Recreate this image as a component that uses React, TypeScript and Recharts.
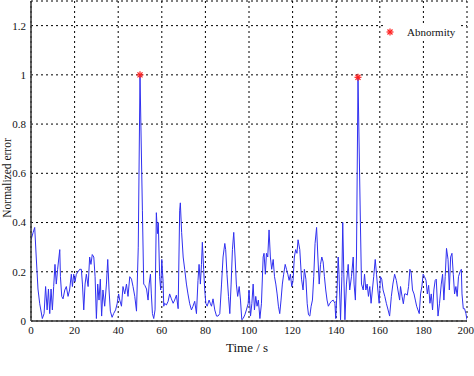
import React from 'react';
import { ComposedChart, Line, Scatter, XAxis, YAxis, CartesianGrid, Label } from 'recharts';

const times = [0,1.0,1.7,2.4,3.2,4.0,5.2,6.0,6.7,7.4,8.0,8.6,9.2,9.8,10.4,11.0,11.6,12.2,13.2,13.5,14.1,14.7,15.5,16.2,17.0,17.7,18.5,19.0,19.6,20.2,20.8,21.6,22.3,23.1,23.6,24.2,24.8,25.4,26.2,26.9,27.5,28.1,28.8,29.4,30.0,30.6,31.2,31.8,32.4,33.0,33.8,34.6,35.2,35.8,36.4,37.2,37.9,38.8,39.5,40.2,40.7,41.5,42.2,43.0,43.8,44.5,45.3,46.1,46.8,47.6,48.4,49.2,50.0,51.1,51.7,52.2,53.0,53.7,54.2,54.8,55.2,55.7,56.3,56.9,57.5,58.0,58.4,59.0,59.5,60.0,60.3,60.6,60.9,61.3,62.1,62.9,63.6,64.4,65.2,65.9,66.7,67.5,68.2,68.5,69.1,69.8,70.5,71.3,72.0,72.8,73.6,74.3,75.1,75.9,76.6,77.1,77.7,78.2,78.6,79.2,79.7,80.2,80.8,81.7,82.3,82.8,83.5,84.3,85.1,85.8,86.6,87.4,88.1,88.9,89.3,89.9,90.6,91.2,91.8,92.4,93.0,93.6,94.2,94.8,95.5,96.1,96.7,97.3,98.1,98.8,99.6,100.0,100.7,101.3,101.9,102.5,103.1,103.7,104.3,105.0,105.7,106.5,106.9,107.5,108.0,108.6,109.2,109.8,110.4,111.1,111.7,112.3,112.9,113.5,114.1,114.7,115.3,115.9,116.6,117.2,117.8,118.4,119.0,119.6,120.2,120.8,121.4,122.0,122.5,123.3,124.1,124.8,125.4,126.1,126.7,127.3,127.9,128.5,129.1,129.7,130.3,131.0,131.6,132.2,132.8,133.4,134.0,134.6,135.2,135.8,136.4,137.1,137.8,138.6,139.4,139.8,140.4,140.9,141.3,142.0,142.6,143.0,143.5,144.0,144.7,145.5,146.2,147.0,147.8,148.2,148.8,149.3,150.0,151.1,151.6,152.4,153.0,153.6,154.2,154.8,155.4,156.0,156.6,157.2,157.9,158.5,159.1,159.7,160.3,160.9,161.5,162.3,163.0,163.8,164.5,165.3,166.0,166.8,167.6,168.3,169.1,169.5,170.2,170.8,171.4,172.0,172.6,173.2,173.8,174.4,175.0,175.7,176.3,176.9,177.5,178.1,178.7,179.3,179.9,180.5,181.2,181.8,182.4,183.0,183.6,184.2,184.8,185.4,185.9,186.7,187.4,188.2,188.8,189.4,190.0,190.6,191.3,191.9,192.5,193.1,193.7,194.3,194.9,195.5,196.1,196.8,197.4,197.7,198.3,198.9,199.5,200.0];

const errors = [0.33,0.36,0.38,0.26,0.13,0.07,0.01,0.03,0.14,0.045,0.13,0.03,0.13,0.045,0.14,0.23,0.15,0.21,0.29,0.18,0.10,0.09,0.126,0.14,0.10,0.126,0.19,0.14,0.19,0.16,0.19,0.20,0.21,0.21,0.15,0.045,0.15,0.19,0.14,0.26,0.23,0.27,0.26,0.18,0.01,0.15,0.085,0.17,0.02,0.126,0.06,0.15,0.25,0.126,0.04,0.015,0.03,0.045,0.07,0.11,0.085,0.06,0.14,0.11,0.15,0.10,0.18,0.17,0.14,0.10,0.04,0.30,1.0,0.45,0.15,0.145,0.13,0.085,0.15,0.19,0.11,0.03,0.01,0.045,0.44,0.355,0.40,0.18,0.126,0.25,0.20,0.16,0.06,0.072,0.065,0.08,0.11,0.09,0.072,0.085,0.105,0.05,0.45,0.48,0.36,0.26,0.21,0.15,0.11,0.07,0.045,0.06,0.08,0.03,0.165,0.23,0.15,0.23,0.32,0.21,0.126,0.072,0.06,0.085,0.07,0.06,0.09,0.045,0.02,0.02,0.03,0.15,0.26,0.315,0.29,0.19,0.10,0.03,0.15,0.29,0.36,0.26,0.15,0.10,0.14,0.085,0.005,0.01,0.025,0.045,0.07,0.126,0.02,0.07,0.15,0.045,0.10,0.06,0.085,0.01,0.07,0.26,0.275,0.19,0.275,0.26,0.37,0.26,0.21,0.25,0.18,0.15,0.11,0.06,0.03,0.085,0.15,0.19,0.23,0.21,0.19,0.165,0.19,0.14,0.165,0.26,0.29,0.275,0.33,0.29,0.17,0.126,0.21,0.17,0.07,0.025,0.02,0.06,0.085,0.18,0.315,0.38,0.26,0.15,0.23,0.26,0.24,0.18,0.126,0.085,0.06,0.072,0.08,0.085,0.072,0.01,0.126,0.26,0.19,0.005,0.18,0.40,0.19,0.005,0.15,0.23,0.126,0.18,0.26,0.15,0.085,0.26,0.99,0.40,0.15,0.126,0.19,0.126,0.15,0.10,0.14,0.072,0.126,0.18,0.25,0.19,0.126,0.072,0.18,0.17,0.126,0.10,0.072,0.045,0.02,0.10,0.15,0.19,0.165,0.126,0.085,0.14,0.10,0.07,0.11,0.11,0.105,0.14,0.21,0.195,0.126,0.11,0.085,0.06,0.045,0.03,0.11,0.14,0.19,0.18,0.165,0.11,0.145,0.072,0.11,0.045,0.126,0.165,0.17,0.02,0.072,0.15,0.19,0.085,0.18,0.295,0.25,0.126,0.26,0.275,0.19,0.11,0.14,0.10,0.18,0.20,0.21,0.11,0.05,0.05,0.03,0.005];

const abnormalTimes = [50, 150];
const abnormalValues = [1.0, 0.99];

const xTicks = [0, 20, 40, 60, 80, 100, 120, 140, 160, 180, 200];
const yTicks = [0, 0.2, 0.4, 0.6, 0.8, 1, 1.2];

const lineData = times.map((t, i) => ({ t, v: errors[i] }));
const starData = abnormalTimes.map((t, i) => ({ t, v: abnormalValues[i] }));

const FONT = '"Liberation Serif", "DejaVu Serif", serif';

const Star = (props: any) => {
  const { cx, cy } = props;
  if (cx == null || cy == null) return null;
  const r = 3.5;
  const d = r * 0.72;
  return (
    <g stroke="#ff2020" strokeWidth={1.2}>
      <line x1={cx - r} y1={cy} x2={cx + r} y2={cy} />
      <line x1={cx} y1={cy - r} x2={cx} y2={cy + r} />
      <line x1={cx - d} y1={cy - d} x2={cx + d} y2={cy + d} />
      <line x1={cx - d} y1={cy + d} x2={cx + d} y2={cy - d} />
    </g>
  );
};

const fmt = (v: number) => String(Number(v.toFixed(1)));

export default function App() {
  return (
    <div style={{ position: 'absolute', left: 0, top: 0, width: 474, height: 376, background: '#fff' }}>
      <ComposedChart width={474} height={376} margin={{ top: 1, right: 7, bottom: 0, left: 0 }}>
        <CartesianGrid stroke="#000" strokeDasharray="2 3" strokeWidth={1} />
        <XAxis
          dataKey="t"
          type="number"
          domain={[0, 200]}
          ticks={xTicks}
          allowDataOverflow
          height={55}
          axisLine={{ stroke: '#333', strokeWidth: 1.5 }}
          tickLine={false}
          tickSize={2}
          tickMargin={3}
          tick={{ fontFamily: FONT, fontSize: 11, fill: '#111' }}
        >
          <Label
            content={() => (
              <text x={247} y={352} textAnchor="middle" fontFamily={FONT} fontSize={13} fill="#111">
                Time / s
              </text>
            )}
          />
        </XAxis>
        <XAxis xAxisId="top" orientation="top" type="number" domain={[0, 200]} height={0} tick={false} tickLine={false} axisLine={{ stroke: '#444', strokeWidth: 2 }} />
        <YAxis
          type="number"
          domain={[0, 1.3]}
          ticks={yTicks}
          allowDataOverflow
          width={31}
          axisLine={{ stroke: '#333', strokeWidth: 1.5 }}
          tickLine={false}
          tickSize={2}
          tickMargin={3}
          tickFormatter={fmt}
          tick={{ fontFamily: FONT, fontSize: 11, fill: '#111' }}
        >
          <Label
            content={() => (
              <text transform="translate(11,178) rotate(-90)" textAnchor="middle" fontFamily={FONT} fontSize={11.5} fill="#111">
                Normalized error
              </text>
            )}
          />
        </YAxis>
        <YAxis yAxisId="right" orientation="right" type="number" domain={[0, 1.3]} width={0} tick={false} tickLine={false} axisLine={{ stroke: '#444', strokeWidth: 1 }} />
        <Line
          data={lineData}
          dataKey="v"
          type="linear"
          stroke="#3030f0"
          strokeWidth={1}
          dot={false}
          activeDot={false}
          isAnimationActive={false}
        />
        <Scatter data={starData} dataKey="v" shape={<Star />} isAnimationActive={false} />
      </ComposedChart>
      <div style={{ position: 'absolute', left: 383, top: 25, display: 'flex', alignItems: 'center', fontFamily: FONT, fontSize: 11, color: '#111', background: '#fff', padding: '0 6px 0 0' }}>
        <svg width={14} height={14} style={{ marginRight: 10 }}>
          <Star cx={7} cy={7} />
        </svg>
        <span>Abnormity</span>
      </div>
    </div>
  );
}
